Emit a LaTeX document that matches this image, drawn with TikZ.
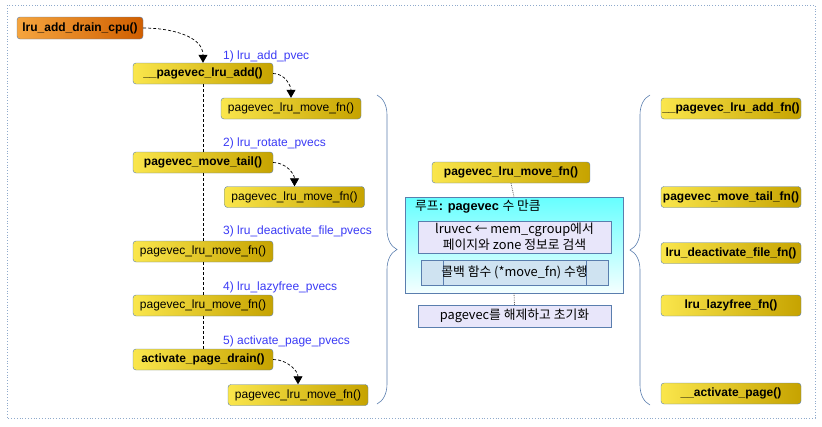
\documentclass[tikz,border=0pt]{standalone}
\usepackage{fontspec}
\setmainfont{Liberation Sans}
\newfontfamily\krfont{Noto Sans CJK KR}
\usetikzlibrary{arrows.meta,calc,decorations.pathreplacing}
\definecolor{Edge}{HTML}{5A7EAE}
\definecolor{YelL}{HTML}{FAE64C}
\definecolor{YelR}{HTML}{C6A300}
\definecolor{OrgL}{HTML}{F5A53E}
\definecolor{OrgR}{HTML}{D05E00}
\definecolor{StepBlue}{HTML}{3A3AF5}
\definecolor{Frame}{HTML}{8FAACC}
\definecolor{Lav}{HTML}{E8E6FA}
\definecolor{CbFill}{HTML}{CFE3F1}

\begin{document}
\begin{tikzpicture}[x=1pt,y=-1pt,
    fn/.style={rounded corners=3pt,draw=Edge,left color=YelL,right color=YelR,
      minimum width=140pt,minimum height=21pt,inner sep=0pt,
      font=\fontsize{12}{14}\selectfont},
    fnb/.style={fn,font=\fontsize{12}{14}\selectfont\bfseries},
    plain/.style={draw=Edge,inner sep=0pt,align=center,
      font=\krfont\fontsize{12.8}{16}\selectfont},
    steplabel/.style={anchor=west,text=StepBlue,inner sep=0pt,
      font=\fontsize{12}{14}\selectfont},
    call/.style={densely dashed,line width=0.7pt,-{Triangle[length=8pt,width=9pt]}},
    spine/.style={densely dashed,line width=0.6pt},
    link/.style={densely dotted,line width=0.8pt,black!60},
    curly/.style={Edge,line width=0.6pt,decorate,decoration={brace,amplitude=20pt}}
  ]
    \useasboundingbox (0,0) rectangle (822,426);
    \draw[Frame,dotted,line width=0.8pt] (7,5) rectangle (815,418);

    \node[fnb,left color=OrgL,right color=OrgR,minimum width=126pt,minimum height=22pt]
      (drain) at (80,28) {lru\_add\_drain\_cpu()};
    \node[fnb] (lruadd) at (203,73.5) {\_\_pagevec\_lru\_add()};
    \node[fn] (mv1) at (291,108.5) {pagevec\_lru\_move\_fn()};
    \node[fnb] (tail) at (203,162.5) {pagevec\_move\_tail()};
    \node[fn] (mv2) at (294.5,197) {pagevec\_lru\_move\_fn()};
    \node[fn] (mv3) at (203,251.5) {pagevec\_lru\_move\_fn()};
    \node[fn] (mv4) at (203,305.5) {pagevec\_lru\_move\_fn()};
    \node[fnb] (actdrain) at (203,359.5) {activate\_page\_drain()};
    \node[fn] (mv5) at (298,395) {pagevec\_lru\_move\_fn()};

    \node[steplabel] (s1) at (223,56) {1) lru\_add\_pvec};
    \node[steplabel] (s2) at (223,143) {2) lru\_rotate\_pvecs};
    \node[steplabel] (s3) at (223,231) {3) lru\_deactivate\_file\_pvecs};
    \node[steplabel] (s4) at (223,287) {4) lru\_lazyfree\_pvecs};
    \node[steplabel] (s5) at (223,341) {5) activate\_page\_pvecs};

    \draw[call] (drain.east) to[out=0,in=90] (lruadd.north);
    \draw[call] (lruadd.east) to[out=0,in=90] (mv1.north);
    \draw[call] (tail.east) to[out=0,in=90] (mv2.north);
    \draw[call] (actdrain.east) to[out=0,in=90] (mv5.north);
    \draw[spine] (lruadd.south) -- (tail.north) (tail.south) -- (mv3.north)
      (mv3.south) -- (mv4.north) (mv4.south) -- (actdrain.north);

    \draw[curly] (377,95) -- (377,404);

    \node[fnb,minimum width=158pt] (cmv) at (511,172.5) {pagevec\_lru\_move\_fn()};
    \node[draw=Edge,top color=cyan!60,bottom color=cyan!4,minimum width=218pt,
      minimum height=96pt] (loop) at (514,245) {};
    \node[anchor=west,inner sep=0pt,font=\fontsize{12.8}{14}\selectfont] (looptitle)
      at (415,207) {{\krfont 루프}\textbf{: pagevec} {\krfont 수 만큼}};
    \node[plain,fill=Lav,minimum width=193pt,minimum height=32pt] (lookup)
      at (514.5,237) {lruvec ← mem\_cgroup에서\\페이지와 zone 정보로 검색};
    \node[plain,fill=CbFill,minimum width=187pt,minimum height=25pt] (callback)
      at (514.5,272.5) {};
    \draw[Edge] ($(callback.north west)+(22,0)$) -- ($(callback.south west)+(22,0)$)
      ($(callback.north east)+(-22,0)$) -- ($(callback.south east)+(-22,0)$);
    \node[inner sep=0pt,font=\krfont\fontsize{12.8}{14}\selectfont] (cbtext)
      at (callback) {콜백 함수 (*move\_fn) 수행};
    \node[plain,fill=Lav,minimum width=193pt,minimum height=22pt] (release)
      at (514.5,316) {pagevec를 해제하고 초기화};
    \draw[link] (cmv.south) -- (loop.north);
    \draw[link] (loop.south) -- (release.north);

    \draw[curly] (650,405) -- (650,95);

    \node[fnb] (addfn) at (731,108.5) {\_\_pagevec\_lru\_add\_fn()};
    \node[fnb] (tailfn) at (731,197) {pagevec\_move\_tail\_fn()};
    \node[fnb] (deactfn) at (731,253) {lru\_deactivate\_file\_fn()};
    \node[fnb] (lazyfn) at (731,305.5) {lru\_lazyfree\_fn()};
    \node[fnb] (actfn) at (731,393.5) {\_\_activate\_page()};
  \end{tikzpicture}
\end{document}
